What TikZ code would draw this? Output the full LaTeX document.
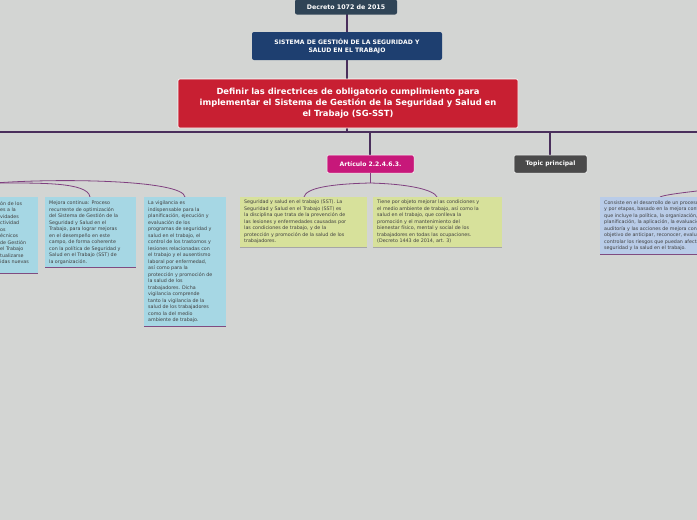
\documentclass[tikz,border=0pt]{standalone}
\usepackage{fontspec}
\setmainfont{DejaVu Sans}
\begin{document}
\begin{tikzpicture}[x=1pt,y=-1pt,
 hdr/.style={draw=none,rounded corners=2pt,text=white,font=\bfseries,align=center,inner sep=0pt},
 note/.style={anchor=north west,align=left,inner sep=0pt,text=black!75,font=\fontsize{4.8}{6.5}\selectfont},
 link/.style={draw=violet!50!gray,line width=0.8pt}]
\definecolor{bg}{HTML}{D3D5D3}
\definecolor{dk}{HTML}{2F4456}
\definecolor{nv}{HTML}{1E3F70}
\definecolor{rd}{HTML}{C81F32}
\definecolor{mg}{HTML}{C7187A}
\definecolor{gy}{HTML}{4A4A4A}
\definecolor{lb}{HTML}{A6D7E4}
\definecolor{gr}{HTML}{D7E19B}
\definecolor{rb}{HTML}{B9CCE8}
\definecolor{ln}{HTML}{4A2F5C}
\useasboundingbox (0,0) rectangle (697,520);
\clip (0,0) rectangle (697,520);
\fill[bg] (0,0) rectangle (697,520);
% trunk
\draw[ln,line width=1.2pt] (0,132) -- (697,132);
\draw[ln,line width=1.2pt] (347,0) -- (347,32) (347,60) -- (347,79) (347,128) -- (347,132);
\draw[ln,line width=1.2pt] (370,132) -- (370,155) (550,132) -- (550,155);
% boxes
\node[hdr,fill=dk,minimum width=102pt,minimum height=15pt,font=\bfseries\fontsize{6.3}{7}\selectfont] (dec) at (346,7) {Decreto 1072 de 2015};
\node[hdr,fill=nv,minimum width=190pt,minimum height=28pt,font=\bfseries\fontsize{6.1}{8}\selectfont] (sis) at (347,46) {SISTEMA DE GESTIÓN DE LA SEGURIDAD Y\\SALUD EN EL TRABAJO};
\node[hdr,fill=rd,draw=white,line width=0.6pt,minimum width=340pt,minimum height=49pt,font=\bfseries\fontsize{8.4}{11}\selectfont] (main) at (348,103.5) {Definir las directrices de obligatorio cumplimiento para\\implementar el Sistema de Gestión de la Seguridad y Salud en\\el Trabajo (SG-SST)};
\node[hdr,fill=mg,draw=white,line width=0.5pt,minimum width=87pt,minimum height=18pt,font=\bfseries\fontsize{6.1}{7}\selectfont] (art) at (370.5,164) {Artículo 2.2.4.6.3.};
\node[hdr,fill=gy,draw=white,line width=0.5pt,minimum width=73pt,minimum height=18pt,font=\bfseries\fontsize{6.1}{7}\selectfont] (top) at (550.5,164) {Topic principal};
% connectors
\draw[link] (-5,183) .. controls (40,183) and (88,182) .. (90,197);
\draw[link] (-5,183) .. controls (60,178) and (183,180) .. (185,197);
\draw[link] (370,173) -- (370,183);
\draw[link] (370,183) .. controls (330,184) and (306,188) .. (304,197);
\draw[link] (370,183) .. controls (410,184) and (434,190) .. (437,197);
\draw[link] (697,191) .. controls (680,193) and (664,195) .. (660,197);
% blue boxes
\fill[lb] (-2,197) rectangle (38,273); \draw[gray!60!violet] (-2,273.5) -- (38,273.5);
\node[note] (b1) at (0,201) {ón de los\\es a la\\vidades\\ctividad\\os\\écnicos\\de Gestión\\el Trabajo\\tualizarse\\idas nuevas};
\fill[lb] (45,197) rectangle (136,267); \draw[gray!60!violet] (45,267.5) -- (136,267.5);
\node[note] (b2) at (49,201) {Mejora continua: Proceso\\recurrente de optimización\\del Sistema de Gestión de la\\Seguridad y Salud en el\\Trabajo, para lograr mejoras\\en el desempeño en este\\campo, de forma coherente\\con la política de Seguridad y\\Salud en el Trabajo (SST) de\\la organización.};
\fill[lb] (144,197) rectangle (226,326); \draw[gray!60!violet] (144,326.5) -- (226,326.5);
\node[note] (b3) at (148,201) {La vigilancia es\\indispensable para la\\planificación, ejecución y\\evaluación de los\\programas de seguridad y\\salud en el trabajo, el\\control de los trastornos y\\lesiones relacionadas con\\el trabajo y el ausentismo\\laboral por enfermedad,\\así como para la\\protección y promoción de\\la salud de los\\trabajadores. Dicha\\vigilancia comprende\\tanto la vigilancia de la\\salud de los trabajadores\\como la del medio\\ambiente de trabajo.};
% green boxes
\fill[gr] (240,197) rectangle (367,247); \draw[gray!70] (240,247.5) -- (367,247.5);
\node[note] (g1) at (244,200) {Seguridad y salud en el trabajo (SST). La\\Seguridad y Salud en el Trabajo (SST) es\\la disciplina que trata de la prevención de\\las lesiones y enfermedades causadas por\\las condiciones de trabajo, y de la\\protección y promoción de la salud de los\\trabajadores.};
\fill[gr] (373,197) rectangle (502,247); \draw[gray!70] (373,247.5) -- (502,247.5);
\node[note] (g2) at (377,200) {Tiene por objeto mejorar las condiciones y\\el medio ambiente de trabajo, así como la\\salud en el trabajo, que conlleva la\\promoción y el mantenimiento del\\bienestar físico, mental y social de los\\trabajadores en todas las ocupaciones.\\(Decreto 1443 de 2014, art. 3)};
% right box
\fill[rb] (600,197) rectangle (700,254); \draw[gray!60!violet] (600,254.5) -- (700,254.5);
\node[note] (r1) at (604,200) {Consiste en el desarrollo de un proceso lógico\\y por etapas, basado en la mejora continua\\que incluye la política, la organización, la\\planificación, la aplicación, la evaluación, la\\auditoría y las acciones de mejora con el\\objetivo de anticipar, reconocer, evaluar y\\controlar los riesgos que puedan afectar la\\seguridad y la salud en el trabajo.};
\end{tikzpicture}
\end{document}
